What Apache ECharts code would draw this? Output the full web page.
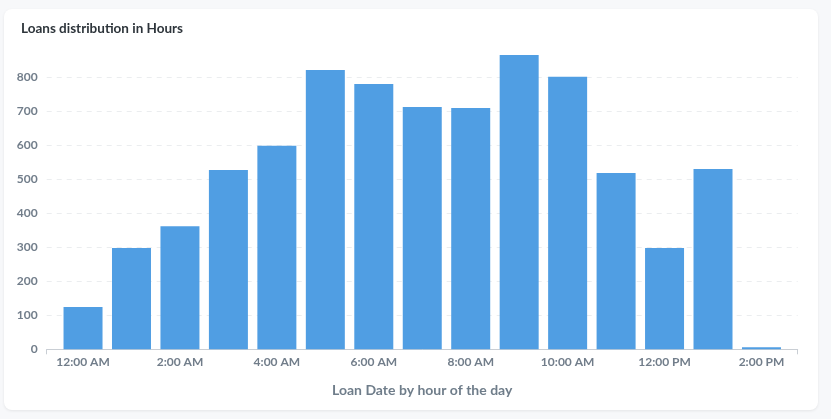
<!DOCTYPE html>
<html>
<head>
<meta charset="utf-8">
<script src="https://cdn.jsdelivr.net/npm/echarts@6/dist/echarts.min.js"></script>
<style>
  html, body { margin: 0; padding: 0; width: 831px; height: 419px; background: #f7f8fa; overflow: hidden; }
  #card { position: absolute; left: 4px; top: 9px; width: 814px; height: 401px; background: #ffffff;
          border-radius: 8px; box-shadow: 0 1px 3px rgba(0,0,0,0.08); }
  #chart { position: absolute; left: 0; top: 0; width: 831px; height: 419px; }
</style>
</head>
<body>
<div id="card"></div>
<div id="chart"></div>
<script>
const hourLabels = ["12:00 AM","1:00 AM","2:00 AM","3:00 AM","4:00 AM","5:00 AM","6:00 AM","7:00 AM",
                    "8:00 AM","9:00 AM","10:00 AM","11:00 AM","12:00 PM","1:00 PM","2:00 PM"];
const loanCounts = [124, 298, 362, 527, 598, 821, 780, 712, 709, 865, 801, 518, 298, 530, 6];
const yTickStep = 100;
const titleText = "Loans distribution in Hours";
const xAxisTitle = "Loan Date by hour of the day";

const yMax = Math.max(...loanCounts);
const labelColor = "#717d8a";
const fontFam = "Lato, 'Noto Sans', sans-serif";

const chart = echarts.init(document.getElementById('chart'), null, { renderer: 'canvas' });
chart.setOption({
  animation: false,
  backgroundColor: 'transparent',
  title: {
    text: titleText, left: 21, top: 22, padding: 0,
    textStyle: { fontFamily: fontFam, fontSize: 13.5, fontWeight: 'bold', color: '#2e353b' }
  },
  grid: [
    { left: 46.7, right: 33.3, top: 55, bottom: 69.7 },
    { left: 58.8, right: 45.3, top: 55, bottom: 69.7 }
  ],
  xAxis: [
    {
      gridIndex: 0, type: 'value', min: 0, max: 1, interval: 1,
      axisLine: { show: true, lineStyle: { color: '#c9ced4', width: 1 } },
      axisTick: { show: true, length: 5, lineStyle: { color: '#c9ced4' } },
      axisLabel: { show: false },
      splitLine: { show: false },
      name: xAxisTitle, nameLocation: 'middle', nameGap: 34,
      nameTextStyle: { fontFamily: fontFam, fontSize: 14, fontWeight: 'bold', color: '#6f7d8a' }
    },
    {
      gridIndex: 1, type: 'category', data: hourLabels,
      axisLine: { show: false }, axisTick: { show: false },
      axisLabel: { interval: 1, margin: 7, fontFamily: fontFam, fontSize: 12, fontWeight: 'bold', color: labelColor },
      splitLine: { show: false }
    }
  ],
  yAxis: [
    {
      gridIndex: 0, type: 'value', min: 0, max: yMax, interval: yTickStep,
      axisLine: { show: false }, axisTick: { show: false },
      axisLabel: { margin: 9, showMaxLabel: false, fontFamily: fontFam, fontSize: 12, fontWeight: 'bold', color: labelColor },
      splitLine: { show: true, showMaxLine: false, lineStyle: { color: '#ebedef', type: [5, 5], width: 1 } }
    },
    {
      gridIndex: 1, type: 'value', min: 0, max: yMax, interval: yTickStep, show: false,
      splitLine: { show: false }
    }
  ],
  series: [{
    type: 'bar', xAxisIndex: 1, yAxisIndex: 1,
    data: loanCounts,
    barWidth: 39,
    itemStyle: { color: '#509ee3' }
  }]
});
</script>
</body>
</html>
